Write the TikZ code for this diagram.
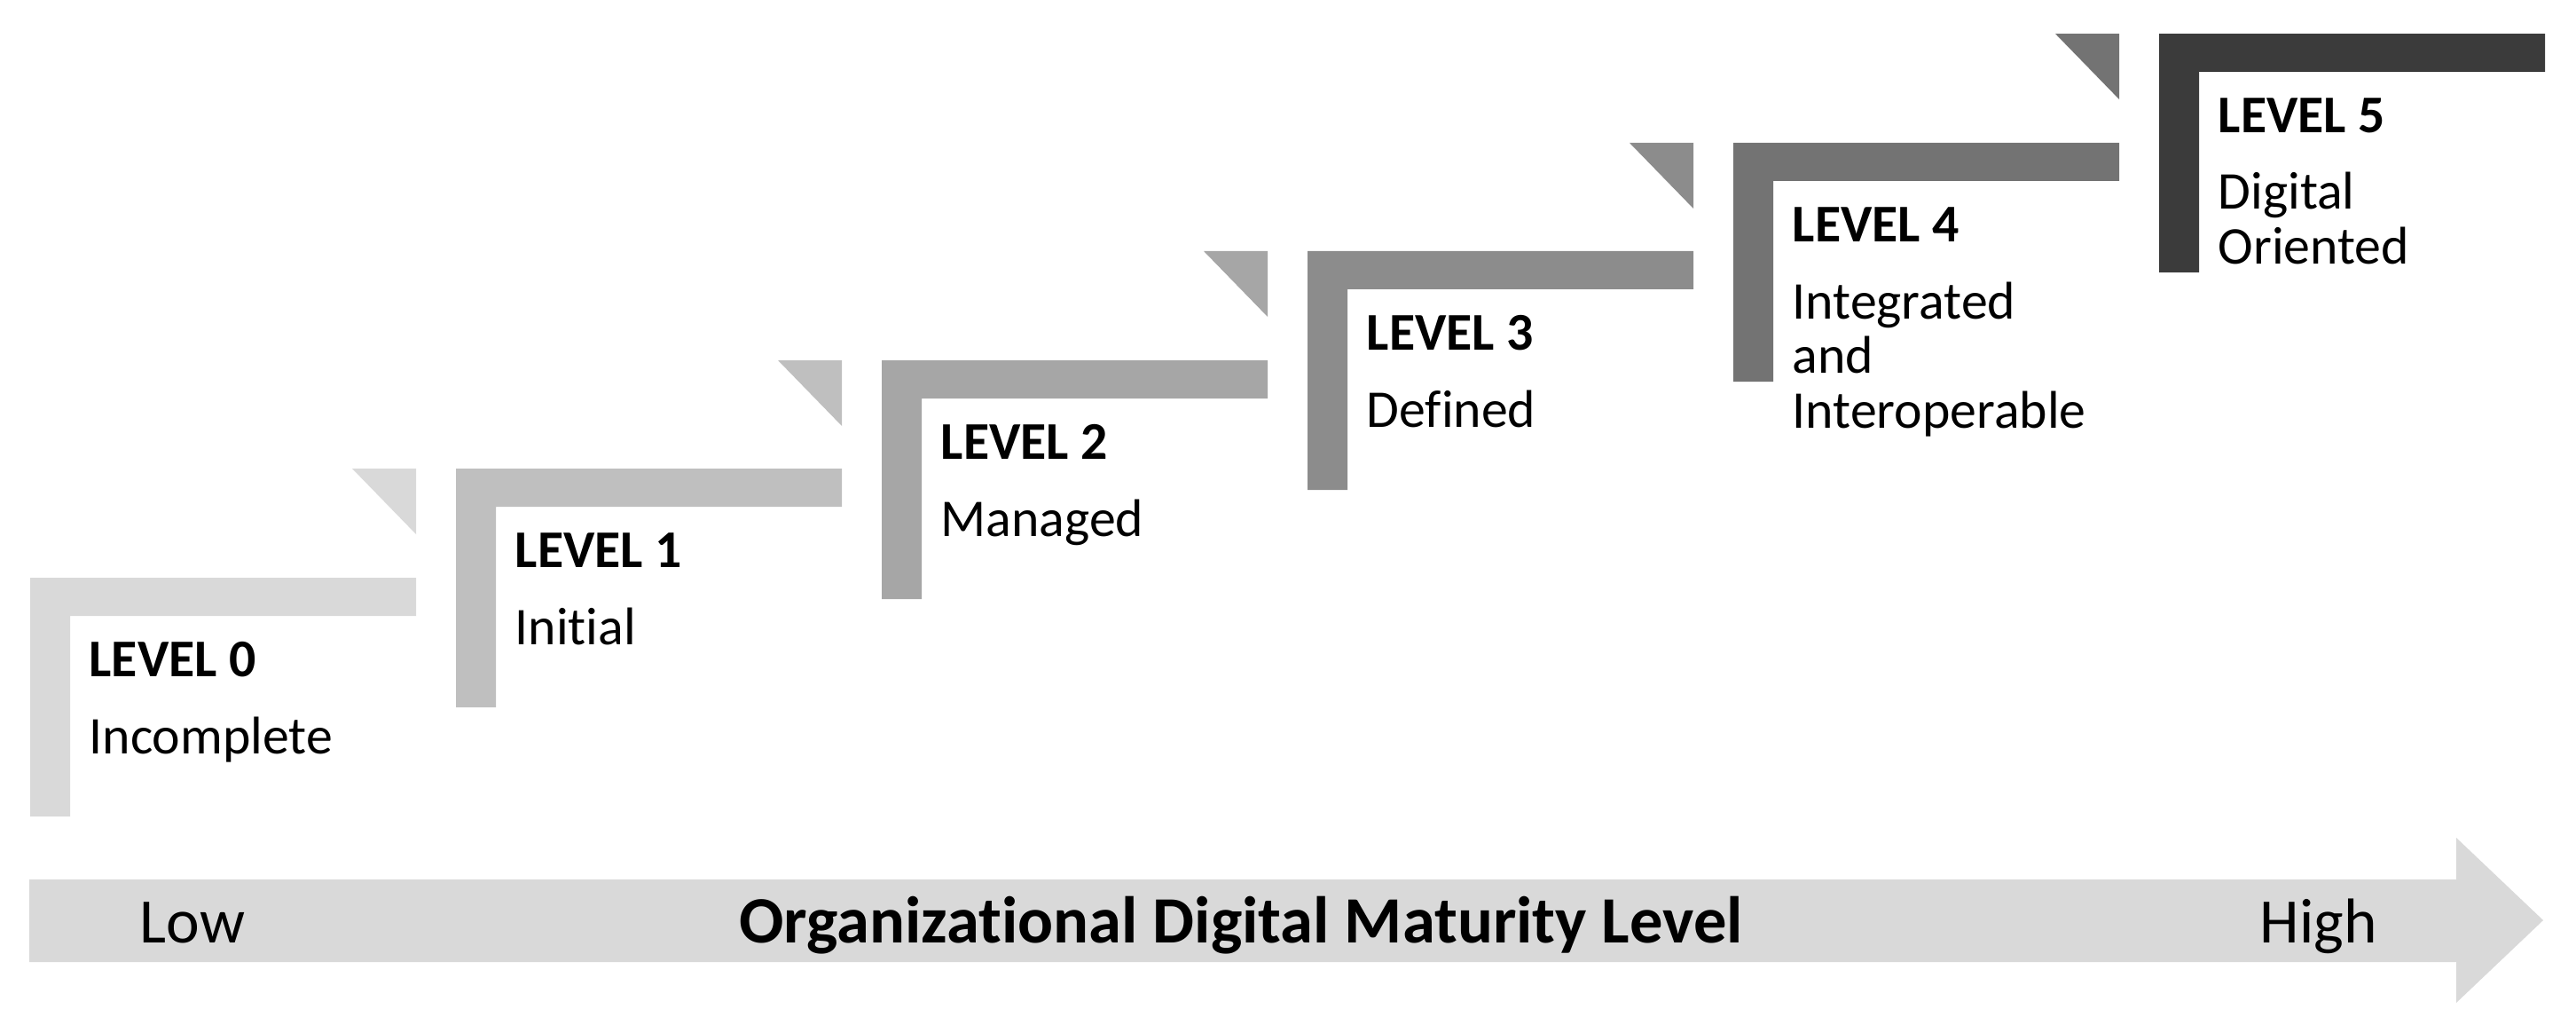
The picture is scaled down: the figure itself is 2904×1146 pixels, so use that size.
\documentclass[tikz,border=0pt]{standalone}
\usepackage{fontspec}
\setmainfont{Carlito}[Ligatures=NoCommon]
\usepackage{xcolor}
\usepackage{tikz}
\definecolor{lvlzero}{HTML}{D9D9D9}
\definecolor{lvlone}{HTML}{BFBFBF}
\definecolor{lvltwo}{HTML}{A6A6A6}
\definecolor{lvlthree}{HTML}{8C8C8C}
\definecolor{lvlfour}{HTML}{737373}
\definecolor{lvlfive}{HTML}{3B3B3B}
\tikzset{
  lvltext/.style={anchor=north west, inner sep=0pt, align=left, font=\fontsize{17}{17.6}\selectfont},
  scaletext/.style={anchor=base west, inner sep=0pt, font=\fontsize{20.3}{24}\selectfont},
}

\begin{document}
\begin{tikzpicture}[x=0.01cm, y=-0.01cm]
  \useasboundingbox (0,0) rectangle (2904,1146);

  % Steps (bar + corner tab)
  \fill[lvlzero]  (34,651)   -- ++(435,0) -- ++(0,43) -- ++(-390,0) -- ++(0,226) -- ++(-45,0) -- cycle
                  (397,528)  -- ++(72,0) -- ++(0,74) -- cycle;
  \fill[lvlone]   (514,528)  -- ++(435,0) -- ++(0,43) -- ++(-390,0) -- ++(0,226) -- ++(-45,0) -- cycle
                  (877,406)  -- ++(72,0) -- ++(0,74) -- cycle;
  \fill[lvltwo]   (994,406)  -- ++(435,0) -- ++(0,43) -- ++(-390,0) -- ++(0,226) -- ++(-45,0) -- cycle
                  (1357,283) -- ++(72,0) -- ++(0,74) -- cycle;
  \fill[lvlthree] (1474,283) -- ++(435,0) -- ++(0,43) -- ++(-390,0) -- ++(0,226) -- ++(-45,0) -- cycle
                  (1837,161) -- ++(72,0) -- ++(0,74) -- cycle;
  \fill[lvlfour]  (1954,161) -- ++(435,0) -- ++(0,43) -- ++(-390,0) -- ++(0,226) -- ++(-45,0) -- cycle
                  (2317,38)  -- ++(72,0) -- ++(0,74) -- cycle;
  \fill[lvlfive]  (2434,38)  -- ++(435,0) -- ++(0,43) -- ++(-390,0) -- ++(0,226) -- ++(-45,0) -- cycle;

  % Level labels
  \node[lvltext] (lvl0) at (100,723)  {\textbf{LEVEL 0}\\[7pt]Incomplete};
  \node[lvltext] (lvl1) at (580,600)  {\textbf{LEVEL 1}\\[7pt]Initial};
  \node[lvltext] (lvl2) at (1060,478) {\textbf{LEVEL 2}\\[7pt]Managed};
  \node[lvltext] (lvl3) at (1540,355) {\textbf{LEVEL 3}\\[7pt]Defined};
  \node[lvltext] (lvl4) at (2020,233) {\textbf{LEVEL 4}\\[7pt]Integrated\\and\\Interoperable};
  \node[lvltext] (lvl5) at (2500,110) {\textbf{LEVEL 5}\\[7pt]Digital\\Oriented};

  % Maturity arrow
  \fill[lvlzero] (33,991) -- (2769,991) -- (2769,944) -- (2867,1037) -- (2769,1130) -- (2769,1084) -- (33,1084) -- cycle;
  \node[scaletext] (low) at (157,1062) {Low};
  \node[scaletext] (high) at (2547,1062) {High};
  \node[scaletext, anchor=base, font=\fontsize{21.2}{24}\selectfont\bfseries] (axis) at (1399,1062) {Organizational Digital Maturity Level};
\end{tikzpicture}
\end{document}
